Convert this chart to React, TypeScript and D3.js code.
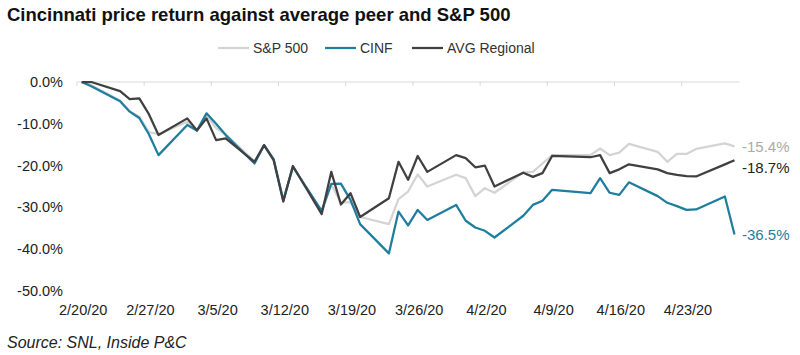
import React from "react";
import * as d3 from "d3";

const dates = [
  "2020-02-20","2020-02-21","2020-02-24","2020-02-25","2020-02-26","2020-02-27","2020-02-28",
  "2020-03-02","2020-03-03","2020-03-04","2020-03-05","2020-03-06",
  "2020-03-09","2020-03-10","2020-03-11","2020-03-12","2020-03-13",
  "2020-03-16","2020-03-17","2020-03-18","2020-03-19","2020-03-20",
  "2020-03-23","2020-03-24","2020-03-25","2020-03-26","2020-03-27",
  "2020-03-30","2020-03-31","2020-04-01","2020-04-02","2020-04-03",
  "2020-04-06","2020-04-07","2020-04-08","2020-04-09",
  "2020-04-13","2020-04-14","2020-04-15","2020-04-16","2020-04-17",
  "2020-04-20","2020-04-21","2020-04-22","2020-04-23","2020-04-24",
  "2020-04-27","2020-04-28",
];

const sp500 = [
  0, -0.8, -4.4, -7.0, -8.3, -12.0, -12.5,
  -9.5, -11.6, -7.9, -11.0, -12.5,
  -19.0, -15.3, -18.8, -28.0, -20.2,
  -31.2, -24.5, -28.8, -28.8, -32.3,
  -34.0, -28.0, -26.2, -22.1, -25.0,
  -22.2, -23.0, -27.3, -25.4, -26.5,
  -21.6, -21.5, -19.5, -17.5,
  -17.5, -15.9, -17.5, -16.9, -14.8,
  -16.7, -19.1, -17.2, -17.2, -16.0,
  -14.7, -15.4,
];

const cinf = [
  0, -1.0, -4.6, -7.1, -8.6, -12.5, -17.5,
  -10.3, -11.6, -7.5, -10.0, -12.7,
  -19.5, -15.1, -18.5, -28.4, -20.3,
  -30.8, -24.4, -24.3, -28.2, -34.0,
  -41.0, -31.0, -34.3, -30.6, -33.0,
  -29.4, -33.2, -34.8, -35.6, -37.2,
  -32.0, -29.4, -28.4, -25.8,
  -26.6, -23.0, -26.5, -27.0, -24.0,
  -27.3, -28.9, -29.7, -30.6, -30.5,
  -27.4, -36.5,
];

const avgRegional = [
  0, 0, -2.2, -4.1, -3.9, -7.7, -12.7,
  -8.7, -11.6, -8.7, -13.9, -13.5,
  -19.1, -15.1, -18.7, -28.6, -20.1,
  -31.6, -21.5, -29.3, -26.6, -32.3,
  -27.8, -19.1, -23.4, -17.7, -21.5,
  -17.5, -18.2, -20.4, -20.0, -25.0,
  -21.7, -22.7, -21.8, -17.7,
  -18.0, -17.5, -21.8, -20.9, -19.7,
  -20.9, -21.8, -22.2, -22.5, -22.6,
  -19.7, -18.7,
];

const tickDates = [
  "2020-02-20","2020-02-27","2020-03-05","2020-03-12","2020-03-19",
  "2020-03-26","2020-04-02","2020-04-09","2020-04-16","2020-04-23",
];
const tickLabels = ["2/20/20","2/27/20","3/5/20","3/12/20","3/19/20","3/26/20","4/2/20","4/9/20","4/16/20","4/23/20"];
const yTicks = [0, -10, -20, -30, -40, -50];

const seriesNames = ["S&P 500", "CINF", "AVG Regional"];
const seriesColors = ["#d4d4d4", "#1f7d9e", "#404040"];
const endLabelColors = ["#aaaaaa", "#1f7d9e", "#222222"];

const FONT = "'Liberation Sans', Arial, sans-serif";

export default function App() {
  const parse = d3.utcParse("%Y-%m-%d");
  const xDates = dates.map((d) => parse(d) as Date);
  const dayMs = 86400000;
  const x = d3
    .scaleUtc()
    .domain([xDates[0], xDates[xDates.length - 1]])
    .range([81.7, 734.5]);
  const halfDay = (x(new Date(xDates[0].getTime() + dayMs)) - x(xDates[0])) / 2;
  const y = d3.scaleLinear().domain([0, -50]).range([82, 291]);

  const all = [sp500, cinf, avgRegional];
  const line = d3
    .line<number>()
    .x((_, i) => x(xDates[i]))
    .y((v) => y(v));

  const axisStart = x(xDates[0]) - halfDay;
  const axisEnd = x(xDates[xDates.length - 1]) + halfDay;

  // end labels with simple collision avoidance
  const ends = all
    .map((s, i) => ({ i, v: s[s.length - 1], py: y(s[s.length - 1]) }))
    .sort((a, b) => a.py - b.py);
  for (let k = 1; k < ends.length; k++) {
    if (ends[k].py - ends[k - 1].py < 21) ends[k].py = ends[k - 1].py + 21;
  }

  const legendItems = [
    { lx: 218, tx: 253 },
    { lx: 325, tx: 360 },
    { lx: 412, tx: 447 },
  ];

  return (
    <svg width={800} height={355} style={{ display: "block", position: "absolute", left: 0, top: 0, background: "#fff" }}>
      <rect width={800} height={355} fill="#fff" />
      <text x={7} y={21} fontFamily={FONT} fontWeight="bold" fontSize={18.5} fill="#111">
        Cincinnati price return against average peer and S&amp;P 500
      </text>

      {legendItems.map((it, i) => (
        <g key={i}>
          <line x1={it.lx} x2={it.lx + 31} y1={48} y2={48} stroke={seriesColors[i]} strokeWidth={2.25} />
          <text x={it.tx} y={53} fontFamily={FONT} fontSize={14} fill="#333">
            {seriesNames[i]}
          </text>
        </g>
      ))}

      {yTicks.map((t) => (
        <text key={t} x={63} y={y(t) + 5} textAnchor="end" fontFamily={FONT} fontSize={14.5} fill="#222">
          {`${t.toFixed(1)}%`}
        </text>
      ))}

      <line x1={axisStart} x2={axisEnd} y1={y(0)} y2={y(0)} stroke="#d9d9d9" strokeWidth={1} />
      {tickDates.map((td) => {
        const tx = x(parse(td) as Date) - halfDay;
        return <line key={td} x1={tx} x2={tx} y1={y(0)} y2={y(0) + 4} stroke="#d9d9d9" strokeWidth={1} />;
      })}
      {tickDates.map((td, i) => (
        <text key={td} x={x(parse(td) as Date) + 1.5} y={315} textAnchor="middle" fontFamily={FONT} fontSize={14.5} fill="#222">
          {tickLabels[i]}
        </text>
      ))}

      {all.map((s, i) => (
        <path key={i} d={line(s) || ""} fill="none" stroke={seriesColors[i]} strokeWidth={2.25} strokeLinejoin="round" />
      ))}

      {ends.map((e) => (
        <text key={e.i} x={742} y={e.py + 5.5} fontFamily={FONT} fontSize={15} fill={endLabelColors[e.i]}>
          {`${e.v.toFixed(1)}%`}
        </text>
      ))}

      <text x={7} y={348} fontFamily={FONT} fontStyle="italic" fontSize={16} fill="#222">
        Source: SNL, Inside P&amp;C
      </text>
    </svg>
  );
}
